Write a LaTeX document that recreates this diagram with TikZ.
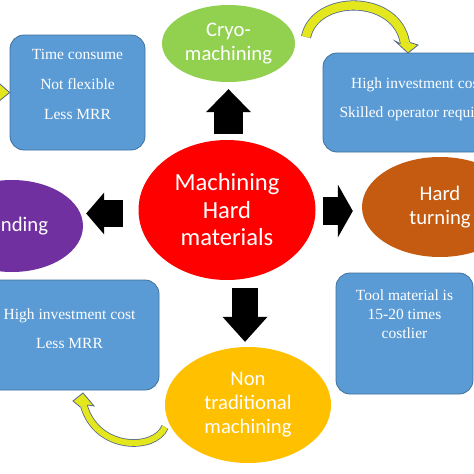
\documentclass[tikz,border=0pt]{standalone}
\usepackage{fontspec}
\setmainfont{Liberation Serif}
\newfontfamily\calibri{Carlito}
\usetikzlibrary{shapes.geometric,arrows.meta,positioning}
\definecolor{boxblue}{RGB}{91,155,213}
\definecolor{boxline}{RGB}{65,113,156}
\definecolor{cryogreen}{RGB}{146,208,80}
\definecolor{turnbrown}{RGB}{197,90,17}
\definecolor{grindpurple}{RGB}{112,48,160}
\definecolor{ntmyellow}{RGB}{255,192,0}
\definecolor{bandfill}{RGB}{228,230,30}
\definecolor{bandline}{RGB}{84,104,140}

\begin{document}
\begin{tikzpicture}[x=1pt, y=-1pt,
  bubble/.style={ellipse, inner sep=0pt, text=white, align=center,
    font=\calibri\fontsize{20.7}{24}\selectfont},
  box/.style={draw=boxline, fill=boxblue, line width=0.8pt, rounded corners=14pt},
  boxtext/.style={text=white, align=center, inner sep=0pt,
    font=\fontsize{15.5}{19}\selectfont},
  blk/.style={black, line width=27pt},
  band/.style={draw=bandline, line width=0.8pt, double=bandfill, double distance=8.5pt},
  head/.style={fill=bandfill, draw=bandline, line width=0.8pt, line join=miter}]

  \useasboundingbox (0,0) rectangle (474,474);
  \fill[white] (0,0) rectangle (474,474);
  \clip (0,0) rectangle (474,474);

  % bubbles
  \node[bubble, fill=red, minimum width=177pt, minimum height=140pt,
    font=\calibri\fontsize{24.6}{27.5}\selectfont] (centre) at (227,210) {Machining\\Hard\\materials};
  \node[bubble, fill=cryogreen, minimum width=133pt, minimum height=77pt] (cryo) at (228.5,43.5) {Cryo-\\machining};
  \node[bubble, fill=turnbrown, minimum width=156pt, minimum height=100pt] (turn) at (440,207) {Hard\\turning};
  \node[bubble, fill=grindpurple, minimum width=142pt, minimum height=92pt] (grind) at (12,226) {Grinding};
  \node[bubble, fill=ntmyellow, minimum width=166pt, minimum height=116pt] (ntm) at (248,405) {Non\\traditional\\machining};

  % boxes
  \node[box, minimum width=135pt, minimum height=115pt] (grindbox) at (77.5,92.5) {};
  \node[boxtext, below=14.5pt of grindbox.north] (grindtxt) {Time consume\\[11pt]Not flexible\\[11pt]Less MRR};
  \node[box, minimum width=188pt, minimum height=99pt] (cryobox) at (417,102.5) {};
  \node[boxtext, below=24.5pt of cryobox.north] (cryotxt) {High investment cost\\[10pt]Skilled operator required};
  \node[box, minimum width=179pt, minimum height=110pt] (ntmbox) at (69.5,335) {};
  \node[boxtext, below=28.5pt of ntmbox.north] (ntmtxt) {High investment cost\\[10pt]Less MRR};
  \node[box, minimum width=137pt, minimum height=121pt] (turnbox) at (404.5,333.5) {};
  \node[boxtext, below=16.5pt of turnbox.north] (turntxt) {Tool material is\\15-20 times\\costlier};

  % black arrows
  \draw[blk, line width=29pt, shorten <=6pt, shorten >=7pt,
    -{Triangle[length=23pt,width=45pt,line width=0pt]}] (cryo.south |- centre.north) -- (cryo.south); % centre->cryo
  \draw[blk, shorten <=15.5pt, shorten >=3pt,
    -{Triangle[length=18pt,width=42pt,line width=0pt]}] ([yshift=-3.5pt]centre.west) -- ([yshift=-3.5pt]centre.west -| grind.east); % centre->grind
  \draw[blk, line width=28pt, shorten <=7.5pt, shorten >=9pt,
    -{Triangle[length=15pt,width=53pt,line width=0pt]}] ([yshift=-1pt]centre.east) -- ([yshift=-1pt]centre.east -| turn.west); % centre->turn
  \draw[blk, line width=26pt, shorten <=8pt, shorten >=5pt,
    -{Triangle[length=25pt,width=45pt,line width=0pt]}] ([xshift=-3pt]ntm.north |- centre.south) -- ([xshift=-3pt]ntm.north); % centre->ntm

  % yellow arrows
  \coordinate (cryotip) at (408,53);
  \draw[band] (306,37) .. controls (315,-6) and (397,-6) .. (405,43); % cryo->cryobox
  \filldraw[head] (400.1,43.6) -- (395,41) -- (cryotip) -- (418,45) -- (409.9,42.4);

  \coordinate (ntmtip) at (83,393);
  \draw[band, double distance=6pt] (165,427) .. controls (155,451) and (97,451) .. (84,406); % ntm->ntmbox
  \filldraw[head] (87.65,404.95) -- (94,406) -- (ntmtip) -- (73,401) -- (80.35,407.05);

  \draw[band] (-20,160) .. controls (-25,120) and (-20,95) .. (-8,92); % grind->grindbox
  \filldraw[head] (-8,87) -- (-8,77) -- (grindbox.west) -- (-8,107) -- (-8,97);

\end{tikzpicture}
\end{document}
